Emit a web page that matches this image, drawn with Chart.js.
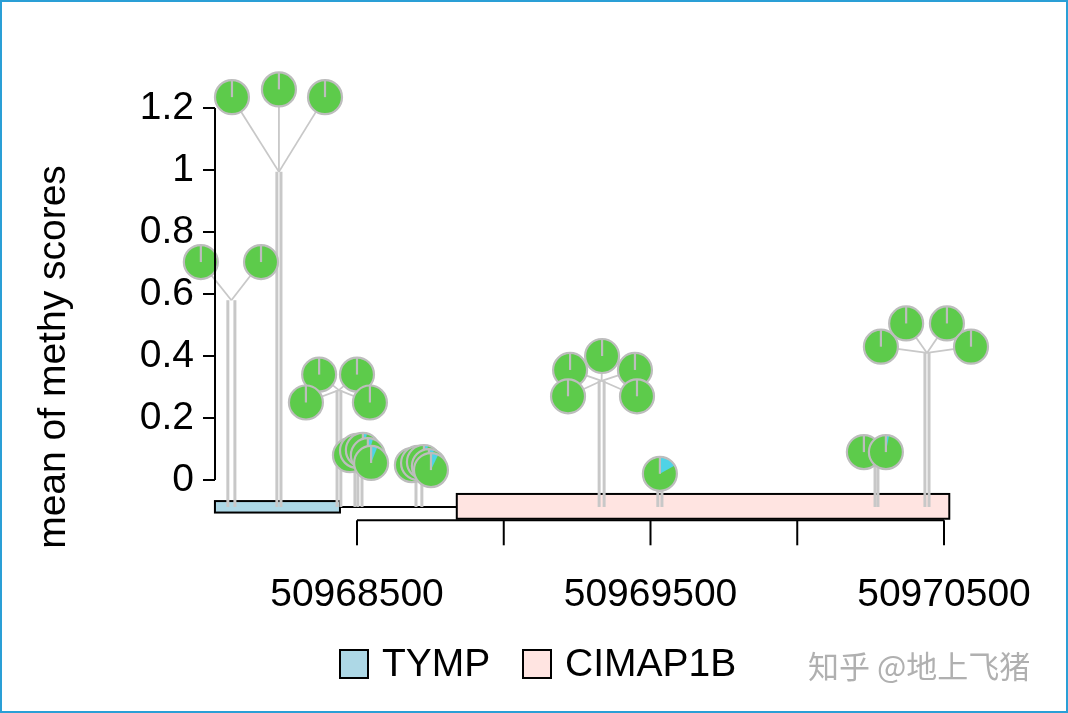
<!DOCTYPE html>
<html><head><meta charset="utf-8">
<script src="https://cdn.jsdelivr.net/npm/chart.js@4"></script>
<style>html,body{margin:0;padding:0;background:#fff}#w{position:relative;width:1068px;height:713px;box-sizing:border-box;border:2px solid #2a9fd6}</style>
</head><body><div id="w"><canvas id="c" width="1064" height="709"></canvas></div>
<script>
const yTicks=[0,0.2,0.4,0.6,0.8,1,1.2];
const yTickLabels=["0","0.2","0.4","0.6","0.8","1","1.2"];
const xTicks=[50968500,50969000,50969500,50970000,50970500];
const xTickLabels=["50968500","","50969500","","50970500"];
const genes=["TYMP","CIMAP1B"];
const geneStart=[50968016,50968840];
const geneEnd=[50968442,50970518];
const geneColors=["#ADD8E6","#FFE4E1"];
// lollipop groups
const stemPos=[[50968060,50968084],[50968227,50968241],[50968432,50968445],[50968493,50968503,50968517],[50968701,50968721],[50969325,50969342],[50969525,50969539],[50970265,50970275],[50970435,50970449]];
const stemTop=[0.58,0.994,0.29,0.07,0.04,0.32,0.02,0.07,0.41];
const circleX=[[50967968,50968173],[50968074,50968234,50968391],[50968371,50968500,50968326,50968544],[50968476,50968500,50968520,50968537,50968548],[50968687,50968708,50968728,50968745,50968752],[50969226,50969335,50969447,50969219,50969454],[50969532],[50970227,50970302],[50970285,50970371,50970510,50970592]];
const circleY=[[0.703,0.703],[1.235,1.26,1.235],[0.34,0.34,0.25,0.25],[0.08,0.094,0.097,0.08,0.055],[0.048,0.055,0.058,0.045,0.032],[0.355,0.4,0.355,0.27,0.27],[0.02],[0.09,0.09],[0.43,0.505,0.505,0.43]];
const cyanFrac=[[0,0],[0,0,0],[0,0,0,0],[0,0,0.04,0.05,0.06],[0,0,0.04,0.05,0.07],[0,0,0,0,0],[0.17],[0,0.03],[0,0,0,0]];
const stemBase=-0.087;

const F='"Liberation Sans", Arial, sans-serif';
const draw={id:'lolli',afterDraw(ch){
 const c=ch.ctx,X=ch.scales.x,Y=ch.scales.y;
 const px=v=>X.getPixelForValue(v), py=v=>Y.getPixelForValue(v);
 c.save();
 c.strokeStyle='#000';c.lineWidth=2;
 c.beginPath();c.moveTo(px(geneEnd[0]),py(-0.087));c.lineTo(px(geneStart[1]),py(-0.087));c.stroke();
 [[ -0.068,-0.105],[-0.045,-0.125]].forEach((h,i)=>{
   const x0=px(geneStart[i]),x1=px(geneEnd[i]),y0=py(h[0]),y1=py(h[1]);
   c.fillStyle=geneColors[i];c.fillRect(x0,y0,x1-x0,y1-y0);c.strokeRect(x0,y0,x1-x0,y1-y0);
 });
 c.strokeStyle='#c8c8c8';
 stemPos.forEach((g,i)=>{
   const bx=g.reduce((a,b)=>a+b)/g.length;
   c.lineWidth=3;
   g.forEach(s=>{c.beginPath();c.moveTo(px(s),py(stemBase));c.lineTo(px(s),py(stemTop[i]));c.stroke();});
   c.lineWidth=1.8;
   circleX[i].forEach((cx,j)=>{c.beginPath();c.moveTo(px(bx),py(stemTop[i]));c.lineTo(px(cx),py(circleY[i][j]));c.stroke();});
 });
 const R=17;
 circleX.forEach((g,i)=>g.forEach((cx,j)=>{
   const x=px(cx),y=py(circleY[i][j]);
   c.beginPath();c.arc(x,y,R,0,Math.PI*2);c.fillStyle='#5dcb4b';c.fill();
   const f=cyanFrac[i][j];
   if(f>0){c.beginPath();c.moveTo(x,y);c.arc(x,y,R,-Math.PI/2,-Math.PI/2+f*2*Math.PI);c.closePath();c.fillStyle='#4fd3e6';c.fill();}
   c.strokeStyle='#bdbdbd';c.lineWidth=2.2;
   c.beginPath();c.arc(x,y,R,0,Math.PI*2);c.stroke();
   c.beginPath();c.moveTo(x,y);c.lineTo(x,y-R);c.stroke();
 }));
 c.strokeStyle='#000';c.lineWidth=2;c.fillStyle='#000';
 c.beginPath();c.moveTo(X.left,py(0));c.lineTo(X.left,py(1.2));c.stroke();
 c.font='39px '+F;c.textAlign='right';c.textBaseline='middle';
 yTicks.forEach((t,i)=>{const y=py(t);c.beginPath();c.moveTo(X.left,y);c.lineTo(X.left-12,y);c.stroke();c.fillText(yTickLabels[i],X.left-21,y);});
 const ya=py(-0.13);
 c.beginPath();c.moveTo(px(xTicks[0]),ya);c.lineTo(px(xTicks[xTicks.length-1]),ya);c.stroke();
 c.textAlign='center';
 xTicks.forEach((t,i)=>{const x=px(t);c.beginPath();c.moveTo(x,ya);c.lineTo(x,ya+25);c.stroke();if(xTickLabels[i])c.fillText(xTickLabels[i],x,593);});
 c.save();c.translate(52,355);c.rotate(-Math.PI/2);c.fillText('mean of methy scores',0,0);c.restore();
 c.textAlign='left';
 [[338,380],[521,563]].forEach((p,i)=>{c.fillStyle=geneColors[i];c.fillRect(p[0],648,28,28);c.strokeRect(p[0],648,28,28);c.fillStyle='#000';c.fillText(genes[i],p[1],663);});
 c.fillStyle='#b0b0b0';c.font='31px "Noto Sans CJK SC"';c.fillText('知乎 @地上飞猪',806,664);
 c.restore();
}};
new Chart(document.getElementById('c'),{type:'scatter',data:{datasets:[{data:[]}]},
 options:{responsive:false,animation:false,layout:{padding:{left:213,right:122,top:106,bottom:231}},
 plugins:{legend:{display:false},tooltip:{enabled:false}},
 scales:{x:{type:'linear',display:false,min:50968016.2,max:50970500},y:{display:false,min:0,max:1.2}}},
 plugins:[draw]});
</script></body></html>
